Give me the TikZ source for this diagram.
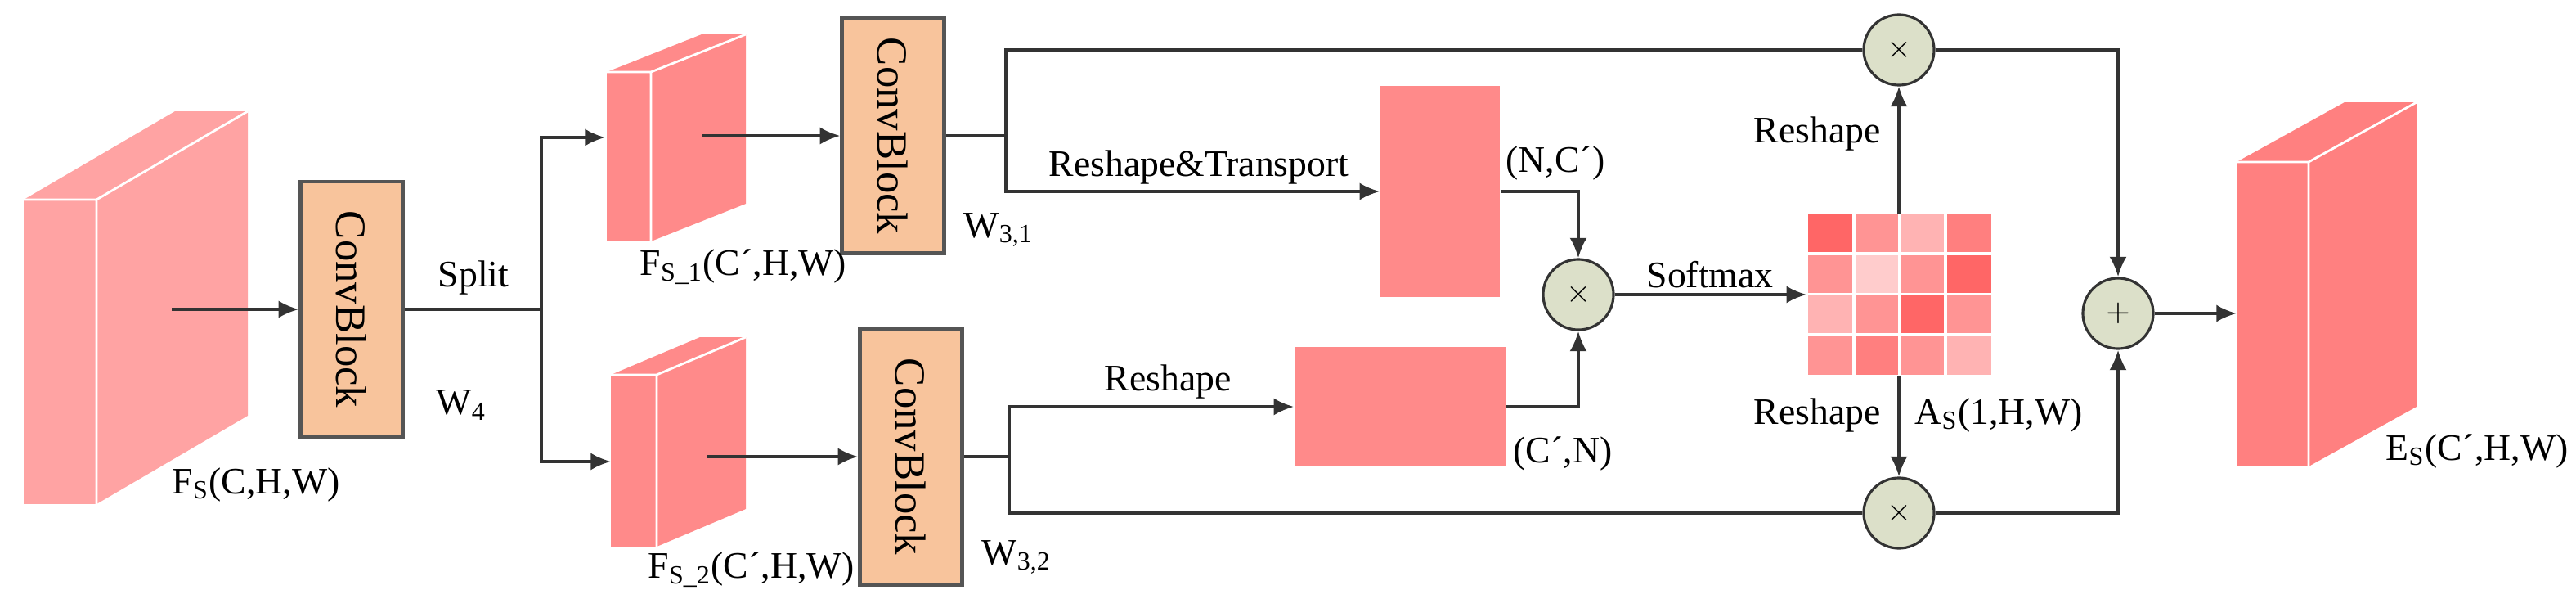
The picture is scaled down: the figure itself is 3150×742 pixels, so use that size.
\documentclass[tikz,border=0pt]{standalone}
\usepackage{fontspec}
\setmainfont{Liberation Serif}
\newfontfamily\tms{Liberation Serif}
\usetikzlibrary{arrows.meta}
\definecolor{cbfill}{HTML}{F8C49C}
\definecolor{cbdraw}{HTML}{555555}
\definecolor{opfill}{HTML}{DCE0C9}
\definecolor{ln}{HTML}{333333}
\definecolor{pkA}{HTML}{FFA3A3}
\definecolor{pkB}{HTML}{FF8A8A}
\definecolor{pkC}{HTML}{FF8080}
\definecolor{m1}{HTML}{FF6666}
\definecolor{m2}{HTML}{FF9494}
\definecolor{m3}{HTML}{FFB3B3}
\definecolor{m4}{HTML}{FF7F7F}
\definecolor{m5}{HTML}{FFCCCC}
\newcommand\mycube[7]{%
 \fill[#7] (#3,#2) -- ++(#5,#6) -- ++(0,#4-#2) -- (#3,#4) -- cycle;
 \fill[#7] (#1,#2) -- ++(#5,#6) -- ++(#3-#1,0) -- (#3,#2) -- cycle;
 \fill[#7] (#1,#2) rectangle (#3,#4);
 \draw[white,line width=0.8pt] (#1,#2) -- (#3,#2) -- (#3,#4) (#3,#2) -- ++(#5,#6);
}
\tikzset{
 x=0.01cm,y=-0.01cm,
 lbl/.style={font=\tms\fontsize{13}{15}\selectfont,inner sep=0pt},
 conv/.style={draw=cbdraw,line width=1.2pt,fill=cbfill,inner sep=0pt,minimum width=1.25cm},
 cvtext/.style={rotate=-90,font=\tms\fontsize{15}{17}\selectfont},
 op/.style={circle,draw=ln,line width=0.9pt,fill=opfill,minimum size=0.86cm,inner sep=0pt,font=\fontsize{11}{13}\selectfont},
 feat/.style={fill=pkB,inner sep=0pt},
 ln/.style={draw=ln,line width=1pt},
 arr/.style={ln,-{Latex[length=7pt,width=6pt]}},
}
\begin{document}
\begin{tikzpicture}
\useasboundingbox (0,0) rectangle (3150,742);
% cubes
\mycube{29}{244}{118}{616}{185}{-108}{pkA}
\mycube{742}{88}{796}{295}{116}{-46}{pkB}
\mycube{747}{458}{803}{668}{109}{-46}{pkB}
\mycube{2735}{198}{2823}{570}{132}{-73}{pkC}
\coordinate (c1o) at (210,378);
\coordinate (c2i) at (740,168);
\coordinate (c2o) at (858,166);
\coordinate (c3i) at (747,564);
\coordinate (c3o) at (865,558);
\coordinate (c4i) at (2735,383);
% conv blocks
\node[conv,minimum height=3.12cm] (CB1) at (430,378) {};
\node[cvtext] at (CB1) {ConvBlock};
\node[conv,minimum height=2.87cm] (CB2) at (1092,166) {};
\node[cvtext] at (CB2) {ConvBlock};
\node[conv,minimum height=3.13cm] (CB3) at (1114,558) {};
\node[cvtext] at (CB3) {ConvBlock};
% reshaped
\node[feat,minimum width=1.46cm,minimum height=2.58cm] (R1) at (1761,234) {};
\node[feat,minimum width=2.58cm,minimum height=1.46cm] (R2) at (1712,497) {};
% matrix
\node[inner sep=0pt,minimum width=2.24cm,minimum height=1.97cm] (M) at (2322,360) {};
\foreach \r/\cols in {0/{m1,m2,m3,m4},1/{m2,m5,m2,m1},2/{m3,m2,m1,m2},3/{m2,m4,m2,m3}}{
 \foreach \c [count=\i from 0] in \cols {
  \fill[\c] (2211+56*\i,261+49.25*\r) rectangle ++(56,49.25);
 }}
\foreach \i in {1,2,3}{
 \draw[white,line width=1pt] (2211+56*\i,261) -- ++(0,197);
 \draw[white,line width=1pt] (2211,261+49.25*\i) -- ++(224,0);}
% operators
\node[op] (X1) at (2322,61) {$\times$};
\node[op] (X2) at (1930,360) {$\times$};
\node[op] (X3) at (2322,627) {$\times$};
\node[op] (P) at (2590,383) {$+$};
% junctions
\coordinate (j1) at (662,378);
\coordinate (j2) at (1230,166);
\coordinate (j3) at (1234,558);
% connectors
\draw[arr] (c1o) -- (CB1.west);
\draw[ln] (CB1.east) -- (j1);
\draw[arr] (j1) |- (c2i);
\draw[arr] (j1) |- (c3i);
\draw[arr] (c2o) -- (CB2.west);
\draw[arr] (c3o) -- (CB3.west);
\draw[ln] (CB2.east) -- (j2);
\draw[ln] (j2) |- (X1.west);
\draw[arr] (j2) |- (R1.west);
\draw[ln] (CB3.east) -- (j3);
\draw[arr] (j3) |- (R2.west);
\draw[ln] (j3) |- (X3.west);
\draw[arr] (R1.east) -| (X2.north);
\draw[arr] (R2.east) -| (X2.south);
\draw[arr] (X2.east) -- (M.west);
\draw[arr] (M.north) -- (X1.south);
\draw[arr] (M.south) -- (X3.north);
\draw[arr] (X1.east) -| (P.north);
\draw[arr] (X3.east) -| (P.south);
\draw[arr] (P.east) -- (c4i);
% labels
\node[lbl,anchor=west] (lFS) at (210,592) {F\textsubscript{S}(C,H,W)};
\node[lbl] (lsplit) at (579,339) {Split};
\node[lbl,anchor=west] (lW4) at (533,495) {W\textsubscript{4}};
\node[lbl,anchor=west] (lF1) at (782,326) {F\textsubscript{S\_1}(C´,H,W)};
\node[lbl,anchor=west] (lF2) at (792,696) {F\textsubscript{S\_2}(C´,H,W)};
\node[lbl,anchor=west] (lW31) at (1178,281) {W\textsubscript{3,1}};
\node[lbl,anchor=west] (lW32) at (1200,681) {W\textsubscript{3,2}};
\node[lbl] (lRT) at (1466,204) {Reshape\&Transport};
\node[lbl,anchor=west] (lNC) at (1841,199) {(N,C´)};
\node[lbl] (lR) at (1428,466) {Reshape};
\node[lbl,anchor=west] (lCN) at (1850,554) {(C´,N)};
\node[lbl,anchor=west] (lsm) at (2013,336) {Softmax};
\node[lbl] (lR2) at (2222,164) {Reshape};
\node[lbl] (lR3) at (2222,507) {Reshape};
\node[lbl,anchor=west] (lA) at (2341,507) {A\textsubscript{S}(1,H,W)};
\node[lbl,anchor=west] (lE) at (2917,551) {E\textsubscript{S}(C´,H,W)};
\end{tikzpicture}
\end{document}
